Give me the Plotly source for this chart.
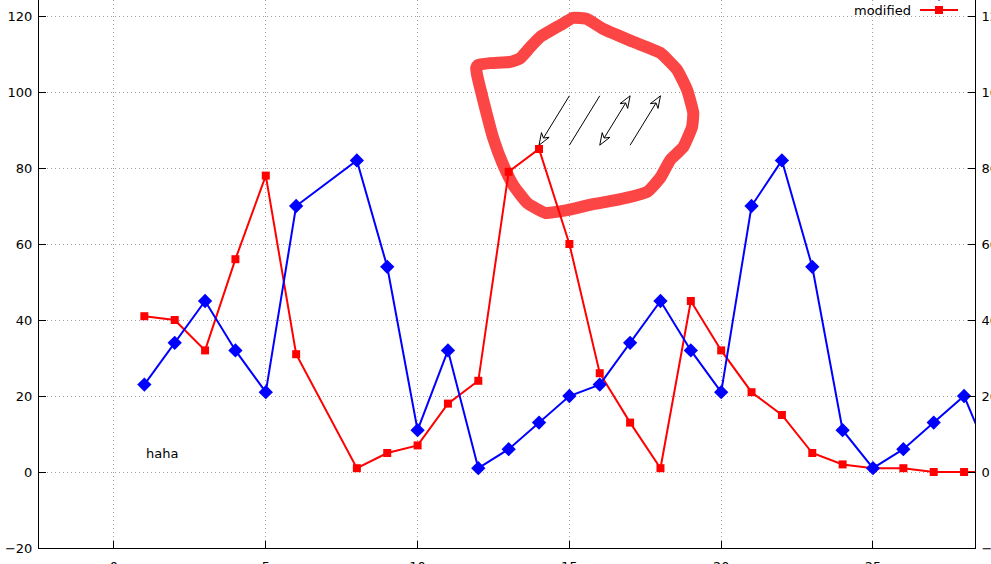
import plotly.graph_objects as go

# data
x_vals = [1, 2, 3, 4, 5, 6, 8, 9, 10, 11, 12, 13, 14, 15, 16, 17, 18, 19, 20,
          21, 22, 23, 24, 25, 26, 27, 28, 29]
blue_vals = [23, 34, 45, 32, 21, 70, 82, 54, 11, 32, 1, 6, 13, 20, 23, 34, 45,
             32, 21, 70, 82, 54, 11, 1, 6, 13, 20, 1]
red_vals = [41, 40, 32, 56, 78, 31, 1, 5, 7, 18, 24, 79, 85, 60, 26, 13, 1, 45,
            32, 21, 15, 5, 2, 1, 1, 0, 0, 0]
red_name = "modified"

label_text = "haha"
label_pos = (1, 5)

# freehand circle drawn over the plot (data coords)
blob_x = [11.99, 12.39, 13.05, 13.38, 13.71, 14.04, 14.70, 15.12, 15.58, 16.11,
          17.10, 17.99, 18.55, 18.88, 19.08, 19.04, 18.75, 18.32, 17.99, 17.56,
          16.57, 15.78, 14.93, 14.20, 13.61, 13.15, 12.82, 12.49, 12.16, 11.96,
          11.93, 11.99]
blob_y = [107.1, 107.6, 107.9, 108.9, 111.8, 114.5, 117.6, 119.5, 119.2, 116.6,
          113.2, 110.3, 105.8, 100.5, 94.5, 90.8, 85.5, 82.1, 77.4, 73.7,
          71.6, 70.5, 68.9, 68.2, 70.8, 75.5, 80.8, 87.9, 97.9, 104.5,
          106.3, 107.1]

# arrows: (x_from, y_from, x_to, y_to, head_at_start, head_at_end)
arrows = [
    (15, 99, 14, 86, False, True),
    (16, 99, 15, 86, False, False),
    (17, 99, 16, 86, True, True),
    (17, 86, 18, 99, False, True),
]

x_range = [-2.47, 28.36]
y_range = [-20, 124.21]

W, H = 991, 564
ML, MR, MT, MB = 39, 16, 0, 16
plot_w = W - ML - MR
plot_h = H - MT - MB
sx = plot_w / (x_range[1] - x_range[0])
sy = plot_h / (y_range[1] - y_range[0])


def head_points(tip, tail, length=12, half_w=4.5, notch=0.7):
    dx = (tip[0] - tail[0]) * sx
    dy = (tip[1] - tail[1]) * sy
    d = (dx ** 2 + dy ** 2) ** 0.5
    ux, uy = dx / d, dy / d
    nx, ny = -uy, ux
    pts = [
        (0, 0),
        (-length * ux + half_w * nx, -length * uy + half_w * ny),
        (-notch * length * ux, -notch * length * uy),
        (-length * ux - half_w * nx, -length * uy - half_w * ny),
        (0, 0),
    ]
    xs = [tip[0] + p[0] / sx for p in pts]
    ys = [tip[1] + p[1] / sy for p in pts]
    return xs, ys, (xs[2], ys[2])


def px2paper(px, py):
    return (px - ML) / plot_w, (H - MB - py) / plot_h


fig = go.Figure()

fig.add_trace(go.Scatter(
    x=blob_x, y=blob_y, mode='lines',
    line=dict(color='#fc4646', width=12, shape='spline', smoothing=0.4),
    hoverinfo='skip'
))

for x0, y0, x1, y1, h_start, h_end in arrows:
    start, end = (x0, y0), (x1, y1)
    if h_end:
        hx, hy, end = head_points((x1, y1), (x0, y0))
    if h_start:
        sx_, sy_, start = head_points((x0, y0), (x1, y1))
    fig.add_trace(go.Scatter(x=[start[0], end[0]], y=[start[1], end[1]],
                             mode='lines', line=dict(color='black', width=1),
                             hoverinfo='skip'))
    if h_end:
        fig.add_trace(go.Scatter(x=hx, y=hy, mode='lines', fill='toself',
                                 fillcolor='white',
                                 line=dict(color='black', width=1),
                                 hoverinfo='skip'))
    if h_start:
        fig.add_trace(go.Scatter(x=sx_, y=sy_, mode='lines', fill='toself',
                                 fillcolor='white',
                                 line=dict(color='black', width=1),
                                 hoverinfo='skip'))

fig.add_trace(go.Scatter(
    x=x_vals, y=red_vals, mode='lines+markers', name=red_name,
    line=dict(color='#ff0000', width=2),
    marker=dict(symbol='square', size=8, color='#ff0000')
))
fig.add_trace(go.Scatter(
    x=x_vals, y=blue_vals, mode='lines+markers',
    line=dict(color='#0000ff', width=2),
    marker=dict(symbol='diamond', size=11, color='#0000ff')
))
# same data on the right-hand axis (invisible) so that axis gets drawn
fig.add_trace(go.Scatter(x=x_vals, y=red_vals, yaxis='y2', mode='lines',
                         line=dict(width=0), opacity=0, hoverinfo='skip'))

# key (gnuplot style: text left of the sample)
kx0, ky = px2paper(920, 10)
kx1, _ = px2paper(958, 10)
kxm, _ = px2paper(939, 10)
ktx, _ = px2paper(913, 10)
_, ky_blue = px2paper(0, -6)
shapes = [
    dict(type='line', xref='paper', yref='paper', x0=kx0, x1=kx1, y0=ky, y1=ky,
         line=dict(color='#ff0000', width=2)),
    dict(type='rect', xref='paper', yref='paper', xsizemode='pixel',
         ysizemode='pixel', xanchor=kxm, yanchor=ky, x0=-4, x1=4, y0=-4, y1=4,
         fillcolor='#ff0000', line=dict(width=0)),
    dict(type='line', xref='paper', yref='paper', x0=kx0, x1=kx1,
         y0=ky_blue, y1=ky_blue, line=dict(color='#0000ff', width=2)),
    dict(type='path', xref='paper', yref='paper', xsizemode='pixel',
         ysizemode='pixel', xanchor=kxm, yanchor=ky_blue,
         path='M0,7 L7,0 L0,-7 L-7,0 Z', fillcolor='#0000ff',
         line=dict(width=0)),
]

annotations = [
    dict(x=label_pos[0], y=label_pos[1], xref='x', yref='y', text=label_text,
         showarrow=False, xanchor='left', yanchor='middle',
         font=dict(size=13, color='black')),
    dict(x=ktx, y=ky, xref='paper', yref='paper', text=red_name,
         showarrow=False, xanchor='right', yanchor='middle',
         font=dict(size=13, color='black')),
]

grid = dict(showgrid=True, gridcolor='#a0a0a0', gridwidth=1, griddash='1px,3px',
            zeroline=False, showline=True, linecolor='black', linewidth=1,
            ticks='inside', ticklen=7, tickcolor='black', tickwidth=1)

fig.update_layout(
    width=W, height=H,
    margin=dict(l=ML, r=MR, t=MT, b=MB, autoexpand=False),
    plot_bgcolor='white', paper_bgcolor='white',
    showlegend=False,
    font=dict(family='DejaVu Sans', size=13, color='black'),
    xaxis=dict(range=x_range, tick0=0, dtick=5, ticklabelstandoff=6, **grid),
    yaxis=dict(range=y_range, tick0=0, dtick=20, ticklabelstandoff=3, **grid),
    yaxis2=dict(range=y_range, tick0=0, dtick=20, overlaying='y', side='right',
                showgrid=False, zeroline=False, showline=True,
                linecolor='black', ticks='inside', ticklen=7,
                tickcolor='black', ticklabelstandoff=3),
    shapes=shapes,
    annotations=annotations,
)

# the page's default body margin would push the chart 8px down and right
fig.write_html("out.html", config={'displayModeBar': False},
               post_script="document.body.style.margin='0';")
